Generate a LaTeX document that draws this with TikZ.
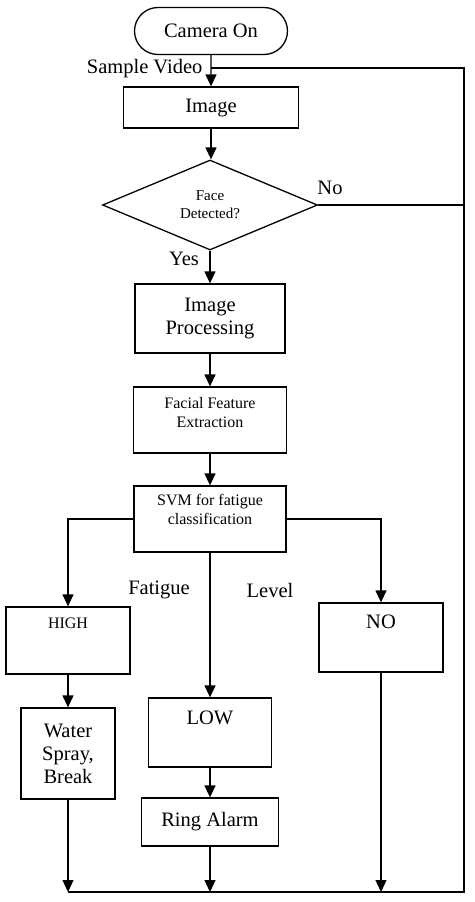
\documentclass[tikz,border=0pt]{standalone}
\usepackage{fontspec}
\setmainfont{Liberation Serif}
\usetikzlibrary{arrows.meta,shapes.geometric,shapes.misc}
\newcommand\fbig{\fontsize{20.5}{23}\selectfont}
\newcommand\fsmall{\fontsize{16}{19}\selectfont}
\begin{document}
\begin{tikzpicture}[x=1pt,y=-1pt,
  line width=1.3pt,
  box/.style={draw,rectangle,line width=1.3pt,inner sep=0pt,align=center,font=\fbig},
  sbox/.style={box,font=\fsmall},
  term/.style={draw,rounded rectangle,line width=1.3pt,inner sep=0pt,font=\fbig,minimum width=153pt,minimum height=47pt},
  dec/.style={draw,diamond,line width=1.3pt,inner sep=0pt,align=center,font=\fontsize{15}{18}\selectfont,minimum width=215pt,minimum height=90pt},
  lbl/.style={inner sep=0pt,font=\fbig},
  arr/.style={-{Triangle[width=11pt,length=12pt]}}]
\useasboundingbox (0,0) rectangle (474,902);
% nodes
\node[term] (cam) at (211,31) {Camera On};
\node[box,minimum width=175pt,minimum height=41pt] (img) at (211,107.5) {Image};
\node[dec] (dia) at (210,205) {Face\\Detected?};
\node[box,minimum width=150pt,minimum height=69pt] (proc) at (210,318.5) {Image\\Processing};
\node[sbox,minimum width=153pt,minimum height=66pt,label={[sbox,draw=none,align=center,anchor=north,yshift=-10pt]north:Facial Feature\\Extraction}] (feat) at (210,420) {};
\node[sbox,minimum width=152pt,minimum height=66pt,label={[sbox,draw=none,align=center,anchor=north,yshift=-8pt]north:SVM for fatigue\\classification}] (svm) at (210,519) {};
\node[sbox,minimum width=124pt,minimum height=67pt,label={[sbox,draw=none,anchor=north,yshift=-11pt]north:HIGH}] (high) at (68,640.5) {};
\node[box,minimum width=124pt,minimum height=69pt,label={[box,draw=none,anchor=north,yshift=-12pt]north:NO}] (no) at (381,637.5) {};
\node[box,minimum width=94pt,minimum height=91pt] (water) at (68,753.5) {Water\\Spray,\\Break};
\node[box,minimum width=123pt,minimum height=69pt,label={[box,draw=none,anchor=north,yshift=-13pt]north:LOW}] (low) at (210,732.5) {};
\node[box,minimum width=137pt,minimum height=48pt] (ring) at (210,822) {Ring Alarm};
% labels
\node[lbl,anchor=east] (sv) at (203,69) {Sample Video};
\node[lbl] (nolab) at (330,188) {No};
\node[lbl] (yes) at (184,259) {Yes};
\node[lbl] (fat) at (159,590) {Fatigue};
\node[lbl] (lev) at (270,590) {Level};
% coordinates
\coordinate (fb) at (211,68);
\coordinate (tr) at (464,68);
\coordinate (br) at (464,892);
\coordinate (bl) at (68,892);
\coordinate (bm) at (210,892);
\coordinate (bn) at (381,892);
\coordinate (nr) at (464,205);
% connectors
\draw[arr] (cam) -- (img);
\draw (fb) -- (tr) -- (br) -- (bl);
\draw[arr] (img.south) -- (img.south |- dia.north);
\draw (dia.east) -- (nr);
\draw[arr] (dia) -- (proc);
\draw[arr] (proc) -- (feat);
\draw[arr] (feat) -- (svm);
\draw[arr] (svm.west) -| (high.north);
\draw[arr] (svm.east) -| (no.north);
\draw[arr] (svm) -- (low);
\draw[arr] (high) -- (water);
\draw[arr] (low) -- (ring);
\draw[arr] (water) -- (bl);
\draw[arr] (ring) -- (bm);
\draw[arr] (no) -- (bn);
\end{tikzpicture}
\end{document}
